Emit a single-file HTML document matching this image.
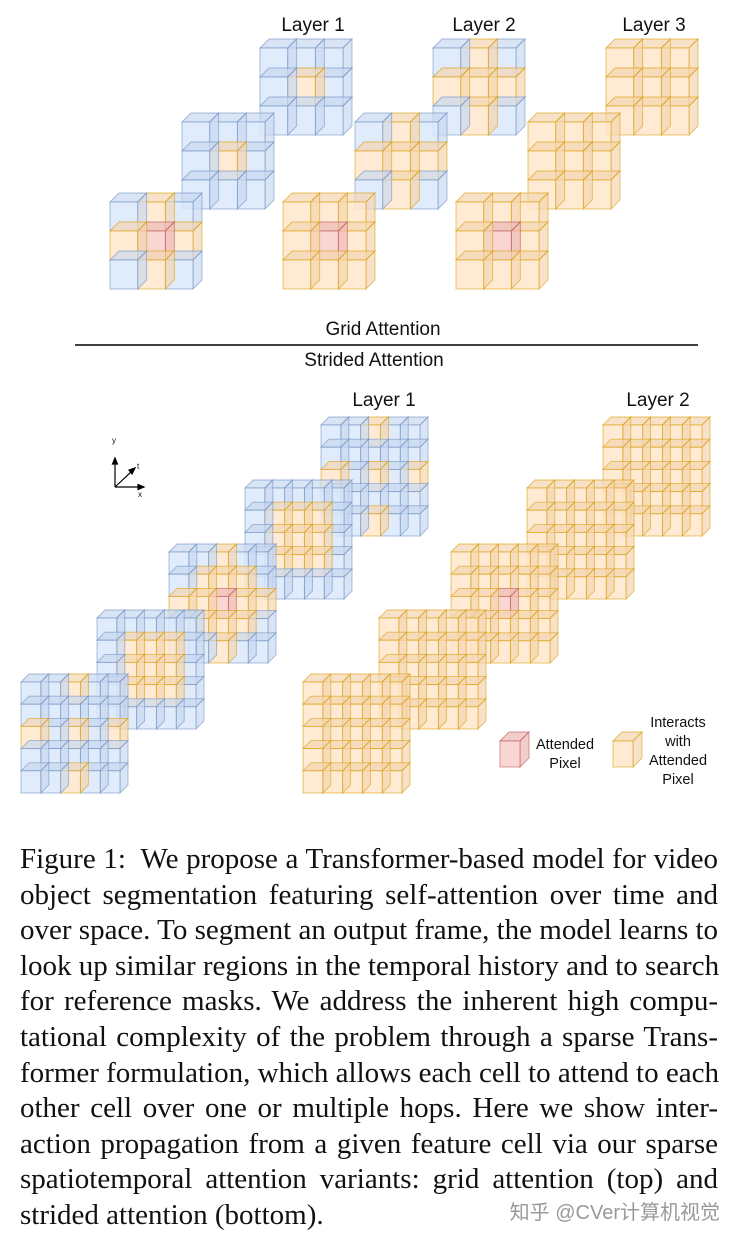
<!DOCTYPE html>
<html><head><meta charset="utf-8">
<style>
html,body{margin:0;padding:0;background:#fff;}
body{width:738px;height:1239px;position:relative;overflow:hidden;}
svg{position:absolute;left:0;top:0;}
.cap{position:absolute;left:20px;top:842px;width:698px;font-family:"Liberation Serif",serif;font-size:29px;line-height:35.6px;color:#111;white-space:nowrap;}
.cap div{text-align:justify;text-align-last:justify;}
.cap div.l{text-align-last:left;}
.wm{position:absolute;right:18px;top:1196px;font-family:"Liberation Sans","Noto Sans CJK SC",sans-serif;font-size:20px;color:#999;}
</style></head><body>
<svg id="s" width="738" height="840" font-family="Liberation Sans, sans-serif">
<g id="g"></g>
<g font-size="19" fill="#111" text-anchor="middle">
<text x="313" y="31">Layer 1</text>
<text x="484" y="31">Layer 2</text>
<text x="654" y="31">Layer 3</text>
<text x="383" y="335">Grid Attention</text>
<text x="374" y="366">Strided Attention</text>
<text x="384" y="406">Layer 1</text>
<text x="658" y="406">Layer 2</text>
</g>
<line x1="75" y1="345" x2="698" y2="345" stroke="#000" stroke-width="1.6"/>
<g stroke="#000" stroke-width="1.2" fill="none">
<line x1="115" y1="487" x2="115" y2="462"/><polygon points="115,458 112.5,464 117.5,464" fill="#000"/>
<line x1="115" y1="487" x2="140" y2="487"/><polygon points="144,487 138,484.5 138,489.5" fill="#000"/>
<line x1="115" y1="487" x2="132" y2="471"/><polygon points="135,468 129,470 132,474" fill="#000"/>
</g>
<g font-size="8" fill="#111"><text x="112" y="443">y</text><text x="137" y="469">t</text><text x="138" y="497">x</text></g>
<g font-size="14.5" fill="#111" text-anchor="middle">
<text x="565" y="749">Attended</text><text x="565" y="768">Pixel</text>
<text x="678" y="727">Interacts</text><text x="678" y="746">with</text><text x="678" y="765">Attended</text><text x="678" y="784">Pixel</text>
</g>
</svg>
<div class="cap">
<div>Figure 1:&nbsp; We propose a Transformer-based model for video</div>
<div>object segmentation featuring self-attention over time and</div>
<div>over space. To segment an output frame, the model learns to</div>
<div>look up similar regions in the temporal history and to search</div>
<div>for reference masks. We address the inherent high compu-</div>
<div>tational complexity of the problem through a sparse Trans-</div>
<div>former formulation, which allows each cell to attend to each</div>
<div>other cell over one or multiple hops. Here we show inter-</div>
<div>action propagation from a given feature cell via our sparse</div>
<div>spatiotemporal attention variants: grid attention (top) and</div>
<div class="l">strided attention (bottom).</div>
</div>
<div class="wm">知乎 @CVer计算机视觉</div>
<script>
var C={b:['#dae8fc','#6c8ebf','#c9d8ef'],o:['#ffe6cc','#d79b00','#f3d5b2'],r:['#f8cecc','#b85450','#ecb8b6']};
var out='';
function cell(x,y,w,h,d,c){
 var f=C[c][0],s=C[c][1],t=C[c][2];
 out+='<g stroke="'+s+'" stroke-width="0.9" stroke-opacity="0.6">';
 out+='<polygon points="'+x+','+y+' '+(x+d)+','+(y-d)+' '+(x+w+d)+','+(y-d)+' '+(x+w)+','+y+'" fill="'+t+'" fill-opacity="0.7"/>';
 out+='<polygon points="'+(x+w)+','+y+' '+(x+w+d)+','+(y-d)+' '+(x+w+d)+','+(y+h-d)+' '+(x+w)+','+(y+h)+'" fill="'+t+'" fill-opacity="0.7"/>';
 out+='<rect x="'+x+'" y="'+y+'" width="'+w+'" height="'+h+'" fill="'+f+'" fill-opacity="0.85"/>';
 out+='</g>';
}
function cube(x,y,n,W,H,d,fn){
 var w=W/n,h=H/n;
 for(var r=0;r<n;r++)for(var c=n-1;c>=0;c--){cell(x+c*w,y+r*h,w,h,d,fn(r,c));}
}
function cross(r,c){return (r==1||c==1)?'o':'b';}
function ctr(r,c){return (r==1&&c==1)?'o':'b';}
function allo(r,c){return 'o';}
var N=3;
function redc(f){return function(r,c){return (r==Math.floor(N/2)&&c==Math.floor(N/2))?'r':f(r,c);};}
var GW=83,GH=87,gd=9;
var L=[[0,ctr,ctr,redc(cross)],[173,cross,cross,redc(allo)],[346,allo,allo,redc(allo)]];
L.forEach(function(l){var o=l[0];
 cube(260+o,48,3,GW,GH,gd,l[1]);
 cube(182+o,122,3,GW,GH,gd,l[2]);
 cube(110+o,202,3,GW,GH,gd,l[3]);
});
N=5;var SW=99,SH=111,sd=8;
function str(r,c){return ((r==2&&c%2==0)||(c==2&&r%2==0))?'o':'b';}
function blk(r,c){return (r>=1&&r<=3&&c>=1&&c<=3)?'o':'b';}
function cen(r,c){return (blk(r,c)=='o'||str(r,c)=='o')?'o':'b';}
cube(321,425,5,SW,SH,sd,str);
cube(245,488,5,SW,SH,sd,blk);
cube(169,552,5,SW,SH,sd,redc(cen));
cube(97,618,5,SW,SH,sd,blk);
cube(21,682,5,SW,SH,sd,str);
cube(603,425,5,SW,SH,sd,allo);
cube(527,488,5,SW,SH,sd,allo);
cube(451,552,5,SW,SH,sd,redc(allo));
cube(379,618,5,SW,SH,sd,allo);
cube(303,682,5,SW,SH,sd,allo);
cell(500,741,20,26,9,'r');
cell(613,741,20,26,9,'o');
document.getElementById('g').innerHTML=out;
</script>
</body></html>
